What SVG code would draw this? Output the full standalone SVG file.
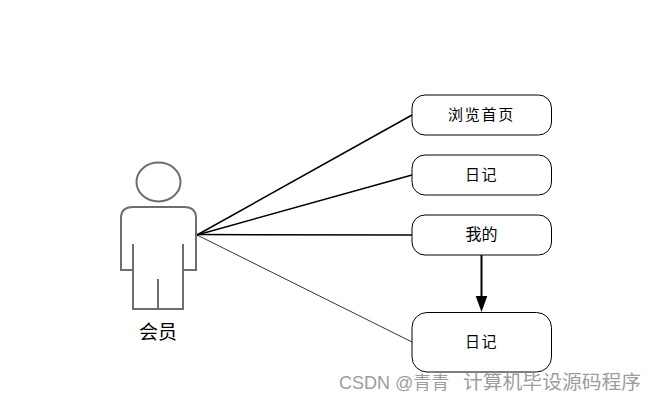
<svg xmlns="http://www.w3.org/2000/svg" width="658" height="401" viewBox="0 0 658 401">
<style>
.box{fill:#fff;stroke:#000;stroke-width:1}
.t{font-family:"Noto Sans CJK SC","Noto Sans CJK JP",sans-serif;font-size:15px;text-anchor:middle;fill:#000}
.c{fill:none;stroke:#000}
.a{fill:none;stroke:#6e6e6e;stroke-width:2}
</style>
<defs><marker id="arr" markerUnits="userSpaceOnUse" markerWidth="17" markerHeight="12" refX="17" refY="6" orient="auto"><path d="M0 0L17 6L0 12z" fill="#000"/></marker></defs>
<rect width="658" height="401" fill="#fff"/>
<g id="connectors">
<path class="c" stroke-width="1.5" d="M197 235L412 115"/>
<path class="c" stroke-width="1.5" d="M197 235L412 175"/>
<path class="c" stroke-width="1.5" d="M197 234.500L412 235"/>
<path class="c" stroke-width="0.8" d="M197 235L412 342"/>
<path class="c" stroke-width="2" d="M481.500 255L481.500 300"/>
<path d="M475.700 296L487.300 296L481.500 312z" fill="#000"/>
</g>
<g id="actor">
<ellipse class="a" cx="158.500" cy="182" rx="22" ry="19.500"/>
<path class="a" d="M133 270H121V218Q121 207 133 207H184Q196 207 196 218V270H183"/>
<path class="a" d="M133 244V309H183V244M158 279V309"/>
<text class="t" x="158" y="339" style="font-size:19px">会员</text>
</g>
<g id="n1"><rect class="box" x="412" y="95" width="139.500" height="40" rx="13"/><text class="t" x="481.500" y="120" letter-spacing="1.800">浏览首页</text></g>
<g id="n2"><rect class="box" x="412" y="155" width="139.500" height="40" rx="13"/><text class="t" x="481.500" y="180" letter-spacing="1.500">日记</text></g>
<g id="n3"><rect class="box" x="412" y="215" width="139.500" height="40" rx="13"/><text class="t" x="481.500" y="240" style="font-size:16px">我的</text></g>
<g id="n4"><rect class="box" x="412" y="312.500" width="139.500" height="59.500" rx="15"/><text class="t" x="481.500" y="347" letter-spacing="1.500">日记</text></g>
<text x="339" y="389" font-family="'Liberation Sans','Noto Sans CJK SC',sans-serif" font-size="18" fill="#8f8f8f" fill-opacity=".9">CSDN @青青<tspan x="463" font-size="19.800">计算机毕设源码程序</tspan></text>
</svg>
